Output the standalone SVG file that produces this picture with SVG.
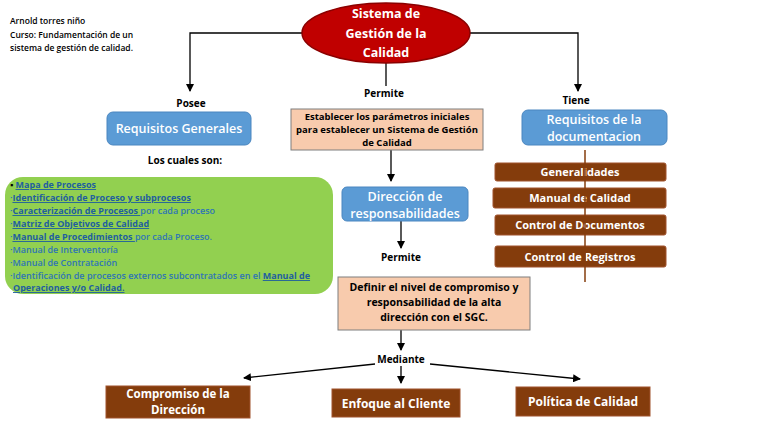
<svg xmlns="http://www.w3.org/2000/svg" width="768" height="433" viewBox="0 0 768 433">
<defs>
<marker id="ah" markerWidth="8" markerHeight="8" refX="7" refY="4" orient="auto" markerUnits="userSpaceOnUse"><path d="M0,0 L8,4 L0,8 z" fill="#000"/></marker>
<style>
text{font-family:"Open Sans","Liberation Sans",sans-serif}
.lbl{font-size:10px;font-weight:bold;fill:#000;text-anchor:middle}
.blue{fill:#5b9bd5;stroke:#4a86c0;stroke-width:1}
.bt{fill:#fff;font-size:12.5px;font-weight:600;text-anchor:middle}
.peach{fill:#f8cbad;stroke:#7f7f7f;stroke-width:1}
.pt{fill:#000;font-size:10px;font-weight:bold;text-anchor:middle}
.brown{fill:#843c0c;stroke:#a0522d;stroke-width:1}
.brt{fill:#fff;font-size:11px;font-weight:bold;text-anchor:middle}
.bb{fill:#fff;font-size:13px;font-weight:bold;text-anchor:middle}
.ln{fill:none;stroke:#000;stroke-width:1.3}
.gt{font-size:9px;font-weight:600;fill:#2e75b6}
.u{font-weight:bold;text-decoration:underline;fill:#1f5f9f}
.au{font-size:8.5px;font-weight:600;fill:#000}
</style>
</defs>
<g id="author">
<text class="au" x="10" y="24">Arnold torres niño</text>
<text class="au" x="10" y="38">Curso: Fundamentación de un</text>
<text class="au" x="10" y="51">sistema de gestión de calidad.</text>
</g>
<g id="connectors">
<path class="ln" d="M302,33 H190 V91" marker-end="url(#ah)"/>
<path class="ln" d="M470,33 H578 V91" marker-end="url(#ah)"/>
<path class="ln" d="M386,63 V86"/>
<path class="ln" d="M391,150 V181" marker-end="url(#ah)"/>
<path class="ln" d="M401,221 V248" marker-end="url(#ah)"/>
<path class="ln" d="M401,330 V350" marker-end="url(#ah)"/>
<path class="ln" d="M375,364 L244,378" marker-end="url(#ah)"/>
<path class="ln" d="M401,366 V383" marker-end="url(#ah)"/>
<path class="ln" d="M430,364 L580,379" marker-end="url(#ah)"/>
</g>
<g id="labels">
<text class="lbl" x="191" y="107">Posee</text>
<text class="lbl" x="384" y="97">Permite</text>
<text class="lbl" x="576" y="104">Tiene</text>
<text class="lbl" x="185" y="164">Los cuales son:</text>
<text class="lbl" x="401" y="261">Permite</text>
<text class="lbl" x="401" y="363">Mediante</text>
</g>
<g id="sgc">
<ellipse cx="386" cy="33" rx="84" ry="30" fill="#c00000" stroke="#8b0000" stroke-width="1.5"/>
<text class="bb" x="386" y="18" style="font-size:12.5px">Sistema de</text>
<text class="bb" x="386" y="38" style="font-size:12.5px">Gestión de la</text>
<text class="bb" x="386" y="57" style="font-size:12.5px">Calidad</text>
</g>
<g id="reqgen">
<rect class="blue" x="107" y="112" width="144" height="33" rx="6"/>
<text class="bt" x="179" y="133">Requisitos Generales</text>
</g>
<g id="list">
<rect x="5" y="177" width="328" height="117" rx="18" fill="#92d050"/>
<text class="gt" x="10" y="188"><tspan fill="#000">▪ </tspan><tspan class="u">Mapa de Procesos</tspan></text>
<text class="gt" x="10" y="201">·<tspan class="u">Identificación de Proceso y subprocesos</tspan></text>
<text class="gt" x="10" y="214">·<tspan class="u">Caracterización de Procesos </tspan>por cada proceso</text>
<text class="gt" x="10" y="227">·<tspan class="u">Matriz de Objetivos de Calidad</tspan></text>
<text class="gt" x="10" y="240">·<tspan class="u">Manual de Procedimientos </tspan>por cada Proceso.</text>
<text class="gt" x="10" y="253">·Manual de Interventoría</text>
<text class="gt" x="10" y="266">·Manual de Contratación</text>
<text class="gt" x="10" y="279">·Identificación de procesos externos subcontratados en el <tspan class="u">Manual de</tspan></text>
<text class="gt" x="13" y="291"><tspan class="u">Operaciones y/o Calidad.</tspan></text>
</g>
<g id="params">
<rect class="peach" x="291" y="109" width="192" height="41"/>
<text class="pt" x="387" y="120" style="font-size:9.5px">Establecer los parámetros iniciales</text>
<text class="pt" x="387" y="133" style="font-size:9.5px">para establecer un Sistema de Gestión</text>
<text class="pt" x="387" y="146" style="font-size:9.5px">de Calidad</text>
</g>
<g id="direccion">
<rect class="blue" x="342" y="187" width="126" height="34" rx="5"/>
<text class="bt" x="405" y="201">Dirección de</text>
<text class="bt" x="405" y="218">responsabilidades</text>
</g>
<g id="definir">
<rect class="peach" x="338" y="277" width="192" height="53"/>
<text class="pt" x="434" y="291" style="font-size:10.5px">Definir el nivel de compromiso y</text>
<text class="pt" x="434" y="306" style="font-size:10.5px">responsabilidad de la alta</text>
<text class="pt" x="434" y="321" style="font-size:10.5px">dirección con el SGC.</text>
</g>
<g id="reqdoc">
<rect class="blue" x="522" y="110" width="145" height="35" rx="6"/>
<text class="bt" x="594" y="124">Requisitos de la</text>
<text class="bt" x="594" y="141">documentacion</text>
</g>
<g id="docs">
<rect class="brown" x="495" y="163" width="171" height="18" rx="2"/>
<text class="brt" x="580" y="176">Generalidades</text>
<rect class="brown" x="493" y="188" width="173" height="20" rx="2"/>
<text class="brt" x="580" y="202">Manual de Calidad</text>
<rect class="brown" x="495" y="215" width="171" height="20" rx="2"/>
<text class="brt" x="580" y="229">Control de Documentos</text>
<rect class="brown" x="495" y="246" width="171" height="21" rx="2"/>
<text class="brt" x="580" y="261">Control de Registros</text>
<path d="M585,150 V282" stroke="#843c0c" stroke-width="1.5"/>
</g>
<g id="compromiso">
<rect class="brown" x="106" y="386" width="144" height="32"/>
<text class="bb" x="178" y="398" style="font-size:11.5px">Compromiso de la</text>
<text class="bb" x="178" y="414" style="font-size:11.5px">Dirección</text>
</g>
<g id="enfoque">
<rect class="brown" x="332" y="389" width="128" height="28"/>
<text class="bb" x="396" y="408" style="font-size:12px">Enfoque al Cliente</text>
</g>
<g id="politica">
<rect class="brown" x="516" y="387" width="134" height="29"/>
<text class="bb" x="583" y="406" style="font-size:12px">Política de Calidad</text>
</g>
</svg>
